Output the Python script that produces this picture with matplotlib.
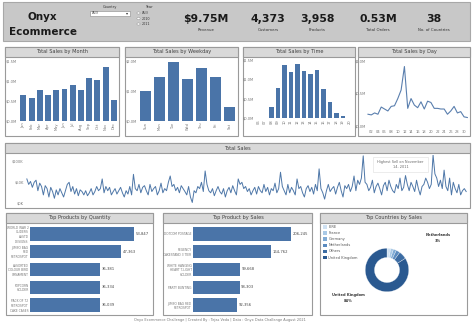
import matplotlib
matplotlib.use("Agg")
import matplotlib.pyplot as plt
from matplotlib.patches import Rectangle, Circle

# ---------------- data ----------------
months = ["Jan", "Feb", "Mar", "Apr", "May", "Jun", "Jul", "Aug", "Sep", "Oct", "Nov", "Dec"]
month_sales = [0.65, 0.57, 0.76, 0.65, 0.76, 0.80, 0.90, 0.76, 1.07, 1.01, 1.34, 0.51]  # $M

weekdays = ["Sun", "Mon", "Tue", "Wed", "Thu", "Fri", "Sat"]
weekday_sales = [1.01, 1.47, 1.98, 1.40, 1.76, 1.46, 0.48]  # $M

hours = ["06", "07", "08", "09", "10", "11", "12", "13", "14", "15", "16", "17", "18", "19", "20"]
hour_sales = [0.004, 0.02, 0.28, 0.78, 1.37, 1.18, 1.40, 1.21, 1.13, 1.23, 0.75, 0.43, 0.13, 0.05, 0.01]  # $M

days = list(range(1, 32))
day_sales = [0.18, 0.17, 0.20, 0.18, 0.29, 0.26, 0.23, 0.30, 0.31, 0.42, 0.55, 0.91, 0.27, 0.42, 0.32,
             0.28, 0.37, 0.26, 0.38, 0.36, 0.27, 0.27, 0.26, 0.26, 0.18, 0.23, 0.30, 0.20, 0.22, 0.14, 0.13]  # $M

daily_sales = [  # $K per trading day
    58, 45, 52, 38, 50, 55, 30, 48, 40, 20, 42, 35, 15, 38, 28, 12, 32, 20, 35, 25,
    15, 30, 45, 50, 28, 40, 22, 35, 18, 32, 28, 20, 30, 18, 25, 35, 20, 28, 40, 30,
    35, 58, 25, 40, 30, 38, 20, 28, 35, 22, 30, 38, 25, 15, 30, 22, 40, 20, 69, 35,
    30, 45, 25, 38, 42, 30, 20, 45, 28, 35, 40, 20, 30, 48, 25, 35, 30, 50, 65, 40,
    45, 30, 38, 25, 42, 35, 28, 20, 40, 15, 2, 30, 25, 40, 35, 50, 28, 77, 45, 30,
    25, 35, 18, 30, 40, 28, 22, 35, 15, 30, 38, 25, 42, 30, 20, 58, 45, 50, 35, 40,
    28, 35, 20, 30, 38, 22, 40, 30, 25, 45, 28, 38, 20, 35, 30, 48, 25, 35, 74, 40,
    30, 20, 45, 25, 38, 30, 20, 58, 35, 40, 25, 15, 35, 42, 28, 38, 22, 45, 30, 82,
    35, 25, 10, 30, 45, 28, 35, 40, 22, 38, 50, 30, 15, 42, 35, 45, 28, 40, 65, 30,
    55, 45, 60, 113, 50, 45, 30, 38, 55, 25, 40, 48, 35, 20, 42, 50, 30, 55, 40, 30,
    25, 45, 35, 60, 30, 38, 66, 45, 30, 50, 40, 28, 55, 35, 20, 40, 45, 60, 50, 35,
    45, 115, 70, 60, 40, 55, 35, 79, 40, 30, 60, 20, 50, 35, 25, 45, 20, 30, 35, 28,
]

qty_products = ["WORLD WAR 2\nGLIDERS\nASSTD\nDESIGNS", "JUMBO BAG\nRED\nRETROSPOT",
                "ASSORTED\nCOLOUR BIRD\nORNAMENT", "POPCORN\nHOLDER", "PACK OF 72\nRETROSPOT\nCAKE CASES"]
qty_values = [53847, 47363, 36381, 36334, 36039]

sales_products = ["DOTCOM POSTAGE", "REGENCY\nCAKESTAND 3 TIER", "WHITE HANGING\nHEART T-LIGHT\nHOLDER",
                  "PARTY BUNTING", "JUMBO BAG RED\nRETROSPOT"]
sales_values = [206245, 164762, 99668, 98303, 92356]

countries = ["EIRE", "France", "Germany", "Netherlands", "Others", "United Kingdom"]
country_share = [2.7, 2.1, 2.3, 2.9, 6.0, 84.0]  # %

kpi_values = ["$9.75M", "4,373", "3,958", "0.53M", "38"]
kpi_labels = ["Revenue", "Customers", "Products", "Total Orders", "No. of Countries"]

# ---------------- figure & helpers ----------------
W, H = 474, 324
fig = plt.figure(figsize=(W / 100, H / 100), dpi=100)
fig.patch.set_facecolor("white")
plt.rcParams["font.family"] = ["DejaVu Sans"]

BAR = "#4a74a8"


def fx(x):
    return x / W


def fy(y):
    return 1 - y / H


def rect(x0, y0, x1, y1, z=-2, **kw):
    fig.patches.append(Rectangle((fx(x0), fy(y1)), (x1 - x0) / W, (y1 - y0) / H,
                                 transform=fig.transFigure, figure=fig, zorder=z, **kw))


def text(x, y, s, **kw):
    fig.text(fx(x), fy(y), s, **kw)


def panel(x0, y0, x1, y1, title):
    rect(x0, y0, x1, y1, facecolor="white", edgecolor="#9a9a9a", lw=0.8)
    rect(x0, y0, x1, y0 + 10, facecolor="#d9d9d9", edgecolor="#9a9a9a", lw=0.8)
    text((x0 + x1) / 2, y0 + 5, title, ha="center", va="center", fontsize=3.6, color="#404040")


def axes(x0, y0, x1, y1):
    ax = fig.add_axes([fx(x0), fy(y1), (x1 - x0) / W, (y1 - y0) / H])
    ax.set_facecolor("none")
    ax.set_zorder(2)
    for s in ax.spines.values():
        s.set_visible(False)
    ax.tick_params(length=0, labelsize=2.6, colors="#777777", pad=1)
    return ax


# ---------------- header ----------------
rect(3, 2, 470, 41, facecolor="#c8c8c8", edgecolor="#a8a8a8", lw=0.8)
text(42, 17, "Onyx", ha="center", va="center", fontsize=7.5, fontweight="bold", color="#1a1a1a")
text(43, 32, "Ecommerce", ha="center", va="center", fontsize=7.5, fontweight="bold", color="#1a1a1a")

text(110, 7, "Country", ha="center", va="center", fontsize=2.6, color="#333333")
rect(90, 11, 130, 15.5, z=-1, facecolor="white", edgecolor="#888888", lw=0.4)
text(92, 13.3, "(All)", ha="left", va="center", fontsize=2.4, color="#333333")
text(128, 13.3, "\u25be", ha="right", va="center", fontsize=3, color="#333333")
text(149, 7, "Year", ha="center", va="center", fontsize=2.6, color="#333333")
for i, lab in enumerate(["(All)", "2010", "2011"]):
    yy = 13 + i * 5.5
    fig.patches.append(Circle((fx(138.5), fy(yy)), 1.6 / W, transform=fig.transFigure, figure=fig,
                              facecolor="white", edgecolor="#888888", lw=0.3, zorder=-1))
    text(142, yy, lab, ha="left", va="center", fontsize=2.4, color="#333333")

kpi_x = [206, 268, 317, 378, 434]
for x, v, lab in zip(kpi_x, kpi_values, kpi_labels):
    text(x, 19.5, v, ha="center", va="center", fontsize=7.8, fontweight="bold", color="#1a1a1a")
    text(x, 30, lab, ha="center", va="center", fontsize=2.8, color="#333333")

# ---------------- row 1 ----------------
panel(5, 47, 119, 136, "Total Sales by Month")
ax = axes(18, 59, 118, 121)
ax.bar(range(len(months)), month_sales, width=0.72, color=BAR)
ax.set_xlim(-0.65, 11.5)
ax.set_ylim(0, 1.54)
ax.set_yticks([0, 0.5, 1.0, 1.5])
ax.set_yticklabels(["$0.0M", "$0.5M", "$1.0M", "$1.5M"])
ax.set_xticks(range(len(months)))
ax.set_xticklabels(months, rotation=90)
ax.axhline(0, color="#cccccc", lw=0.4)

panel(125, 47, 238, 136, "Total Sales by Weekday")
ax = axes(138, 60, 237, 121)
ax.bar(range(len(weekdays)), weekday_sales, width=0.75, color=BAR)
ax.set_xlim(-0.55, 6.55)
ax.set_ylim(0, 2.03)
ax.set_yticks([0, 1.0, 2.0])
ax.set_yticklabels(["$0.0M", "$1.0M", "$2.0M"])
ax.set_xticks(range(len(weekdays)))
ax.set_xticklabels(weekdays, rotation=90)
ax.axhline(0, color="#cccccc", lw=0.4)

panel(243, 47, 355, 136, "Total Sales by Time")
ax = axes(255, 60, 353, 118.3)
ax.bar(range(len(hours)), hour_sales, width=0.72, color=BAR)
ax.set_xlim(-0.55, 14.55)
ax.set_ylim(0, 1.5)
ax.set_yticks([0, 0.5, 1.0, 1.5])
ax.set_yticklabels(["$0.0M", "$0.5M", "$1.0M", "$1.5M"])
ax.set_xticks(range(len(hours)))
ax.set_xticklabels(hours, rotation=90)
ax.axhline(0, color="#cccccc", lw=0.4)

panel(358, 47, 470, 136, "Total Sales by Day")
ax = axes(367, 60, 468, 126)
ax.plot(days, day_sales, color="#5a7fae", lw=0.8)
ax.set_xlim(0.7, 31.2)
ax.set_ylim(0, 1.01)
ax.set_yticks([0, 0.5, 1.0])
ax.set_yticklabels(["$0.0M", "$0.5M", "$1.0M"])
ax.set_xticks(range(2, 31, 2))
ax.set_xticklabels([f"{d:02d}" for d in range(2, 31, 2)])
ax.tick_params(axis="x", pad=3)

# ---------------- row 2 ----------------
panel(5, 143, 470, 208, "Total Sales")
ax = axes(25, 155, 468, 203.3)
ax.plot(range(len(daily_sales)), daily_sales, color="#4e77a8", lw=0.7)
ax.set_xlim(-1, len(daily_sales))
ax.set_ylim(0, 115)
ax.set_yticks([0, 50, 100])
ax.set_yticklabels(["$0K", "$50K", "$100K"])
ax.set_xticks([])
rect(373, 157, 428, 172, z=-1, facecolor="white", edgecolor="#dddddd", lw=0.4)
text(400.5, 164.5, "Highest Sell on November\n14, 2011", ha="center", va="center",
     fontsize=2.5, color="#666666", linespacing=1.3)

# ---------------- row 3 ----------------
panel(6, 213, 153, 315, "Top Products by Quantity")
ax = axes(30, 225, 150, 314)
ax.barh(range(len(qty_values)), qty_values, height=0.75, color=BAR)
ax.set_xlim(0, 62200)
ax.set_ylim(4.5, -0.5)
ax.set_xticks([])
ax.set_yticks(range(len(qty_products)))
ax.set_yticklabels(qty_products, fontsize=2.2, linespacing=1.2)
for i, v in enumerate(qty_values):
    ax.text(v + 900, i, f"{v:,}", va="center", ha="left", fontsize=2.7, color="#444444")

panel(163, 213, 312, 315, "Top Product by Sales")
ax = axes(193, 225, 306, 314)
ax.barh(range(len(sales_values)), sales_values, height=0.75, color=BAR)
ax.set_xlim(0, 238000)
ax.set_ylim(4.5, -0.5)
ax.set_xticks([])
ax.set_yticks(range(len(sales_products)))
ax.set_yticklabels(sales_products, fontsize=2.2, linespacing=1.2)
for i, v in enumerate(sales_values):
    ax.text(v + 3000, i, f"{v:,}", va="center", ha="left", fontsize=2.7, color="#444444")

panel(320, 213, 467, 315, "Top Countries by Sales")
shades = ["#cfe1f2", "#a9c9e6", "#80abd5", "#5b8bbf", "#3c6ca3", "#2a5990"]
ax = axes(362, 245, 412, 295)
ax.pie(country_share, colors=shades, startangle=90, counterclock=False, radius=0.87,
       wedgeprops=dict(width=0.37, edgecolor="white", linewidth=0.2))
ax.set_xlim(-1, 1)
ax.set_ylim(-1, 1)
ax.set_aspect("equal")
for i, c in enumerate(countries):
    yy = 227 + i * 6.1
    rect(323, yy - 1.8, 326.6, yy + 1.8, z=-1, facecolor=shades[i], edgecolor="none")
    text(328.5, yy, c, ha="left", va="center", fontsize=2.6, color="#555555")
text(438, 238, "Netherlands\n3%", ha="center", va="center", fontsize=2.6, color="#333333",
     fontweight="bold", linespacing=1.4)
text(348, 298, "United Kingdom\n84%", ha="center", va="center", fontsize=2.6, color="#333333",
     fontweight="bold", linespacing=1.4)

# ---------------- footer ----------------
text(220, 319.5, "Onyx Ecommerce Challenge | Created By : Tejas Veda | Data : Onyx Data Challenge August 2021",
     ha="center", va="center", fontsize=2.5, color="#777777")

fig.savefig("out.png", dpi=100, facecolor="white")
